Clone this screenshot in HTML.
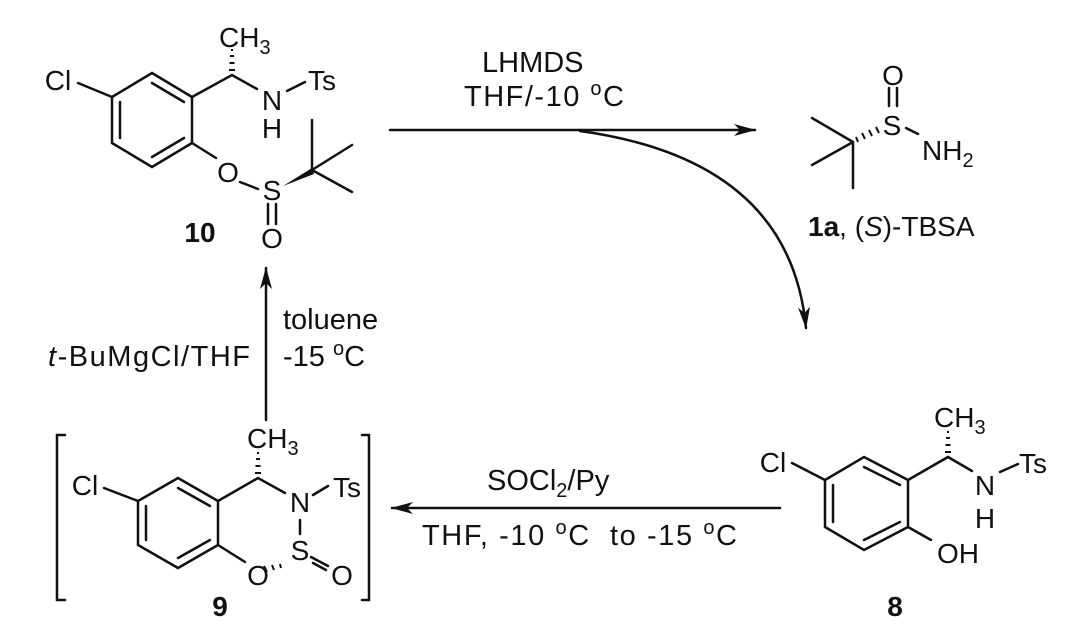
<!DOCTYPE html>
<html><head><meta charset="utf-8"><style>
html,body{margin:0;padding:0;background:#fff;}
svg{display:block;}
text{font-family:"Liberation Sans",Arial,sans-serif;font-size:28px;fill:#111;}
.a{text-anchor:middle;}
.c{font-size:29px;}
.b{font-weight:bold;}
.s{font-size:20px;}
</style></head><body>
<svg width="1080" height="641" viewBox="0 0 1080 641" xmlns="http://www.w3.org/2000/svg">
<defs>
<marker id="ah" viewBox="0 0 22 12" refX="21" refY="6" markerWidth="22" markerHeight="12" markerUnits="userSpaceOnUse" orient="auto">
<path d="M0,0 L22,6 L0,12 L6,6 Z" fill="#111"/></marker>
</defs>
<g stroke="#111" stroke-width="2.5" fill="none" stroke-linecap="round">
<path d="M152,73 L192,97 L192,143 L152,167 L112,143 L112,97 Z"/>
<path d="M152,83 L184,102 M184,138 L152,157 M120,102 L120,138"/>
<path d="M78,83 L112,97"/>
<path d="M192,97 L232,75 L257,89"/>
<path d="M287,91 L305,82"/>
<path d="M192,143 L216,158"/>
<path d="M240,182 L258,189"/>
<path d="M268,204 L268,224 M276,204 L276,224"/>
<path d="M312,170 L312,120 M312,170 L352,145 M312,170 L352,192"/>
<path d="M178,478 L218,501 L218,545 L178,568 L138,545 L138,501 Z"/>
<path d="M178,488 L210,506 M210,540 L178,558 M146,506 L146,540"/>
<path d="M104,488 L138,501"/>
<path d="M218,501 L258,478 L285,493"/>
<path d="M313,495 L328,486"/>
<path d="M300,520 L300,534"/>
<path d="M218,545 L245,562"/>
<path d="M313,563 L326,570"/>
<path d="M311,557 L328,566"/>
<path d="M65,435 L57,435 L57,600 L65,600 M362,435 L369,435 L369,600 L362,600"/>
<path d="M864,457 L908,480 L908,527 L864,550 L825,527 L825,480 Z"/>
<path d="M864,467 L900,485 M900,522 L864,540 M833,485 L833,522"/>
<path d="M792,463 L825,480"/>
<path d="M908,480 L948,457 L972,471"/>
<path d="M1000,472 L1018,464"/>
<path d="M908,527 L931,540"/>
<path d="M853,142 L812,118 M853,142 L812,165 M853,142 L853,188"/>
<path d="M889,88 L889,106 M897,88 L897,106"/>
<path d="M906,128 L918,134"/>
<path d="M390,130 L755,130" marker-end="url(#ah)"/>
<path d="M580,131 Q790,160 806,328" marker-end="url(#ah)"/>
<path d="M780,508 L392,508" marker-end="url(#ah)"/>
<path d="M266,420 L266,268" marker-end="url(#ah)"/>
</g>
<g stroke="#111" stroke-width="2" stroke-linecap="butt">
<path d="M229,70 L235,70 M229.5,63 L234.5,63 M230,56 L234,56 M231,50 L233,50"/>
<path d="M255,473 L261,473 M255.5,466 L260.5,466 M256,459 L260,459 M257,453 L259,453"/>
<path d="M945,452 L951,452 M945.5,445 L950.5,445 M946,438 L950,438 M947,432 L949,432"/>
<path d="M858,142 L856,137 M865,139 L862,133 M872,136 L869,130 M879,133 L876,127"/>
<path d="M267,572 L264,566 M274,570 L272,565 M281,568 L280,564"/>
</g>
<polygon points="283,186 312,168 314,174" fill="#111"/>
<text class="a" x="58" y="90">Cl</text>
<text x="219" y="47">CH<tspan class="s" dy="7">3</tspan></text>
<text class="a" x="272" y="110">N</text>
<text class="a" x="322" y="90">Ts</text>
<text class="a" x="272" y="138">H</text>
<text class="a" x="228" y="182">O</text>
<text class="a" x="272" y="200">S</text>
<text class="a" x="272" y="248">O</text>
<text class="a b" x="200" y="242">10</text>
<text class="a" x="85" y="495">Cl</text>
<text x="247" y="448">CH<tspan class="s" dy="7">3</tspan></text>
<text class="a" x="300" y="512">N</text>
<text class="a" x="347" y="497">Ts</text>
<text class="a" x="300" y="560">S</text>
<text class="a" x="258" y="585">O</text>
<text class="a" x="342" y="585">O</text>
<text class="a b" x="220" y="616">9</text>
<text class="a" x="773" y="472">Cl</text>
<text x="934" y="427">CH<tspan class="s" dy="7">3</tspan></text>
<text class="a" x="985" y="495">N</text>
<text class="a" x="1033" y="473">Ts</text>
<text class="a" x="985" y="528">H</text>
<text class="a" x="958" y="563">OH</text>
<text class="a b" x="895" y="616">8</text>
<text class="a" x="893" y="85">O</text>
<text class="a" x="892" y="135">S</text>
<text x="922" y="160">NH<tspan class="s" dy="7">2</tspan></text>
<text x="808" y="236"><tspan class="b">1a</tspan>, (<tspan font-style="italic">S</tspan>)-TBSA</text>
<text class="c" x="482" y="72">LHMDS</text>
<text class="c" x="464" y="106" textLength="160" lengthAdjust="spacing">THF/-10 <tspan class="s" dy="-11">o</tspan><tspan dy="11">C</tspan></text>
<text class="c" x="487" y="490">SOCl<tspan class="s" dy="7">2</tspan><tspan dy="-7">/Py</tspan></text>
<text class="c" x="422" y="545" textLength="315" lengthAdjust="spacing">THF, -10 <tspan class="s" dy="-11">o</tspan><tspan dy="11">C&#160;&#160;to -15 </tspan><tspan class="s" dy="-11">o</tspan><tspan dy="11">C</tspan></text>
<text class="c" x="48" y="366" textLength="202" lengthAdjust="spacing"><tspan font-style="italic">t</tspan>-BuMgCl/THF</text>
<text class="c" x="283" y="329">toluene</text>
<text class="c" x="283" y="366">-15 <tspan class="s" dy="-11">o</tspan><tspan dy="11">C</tspan></text>
</svg>
</body></html>
